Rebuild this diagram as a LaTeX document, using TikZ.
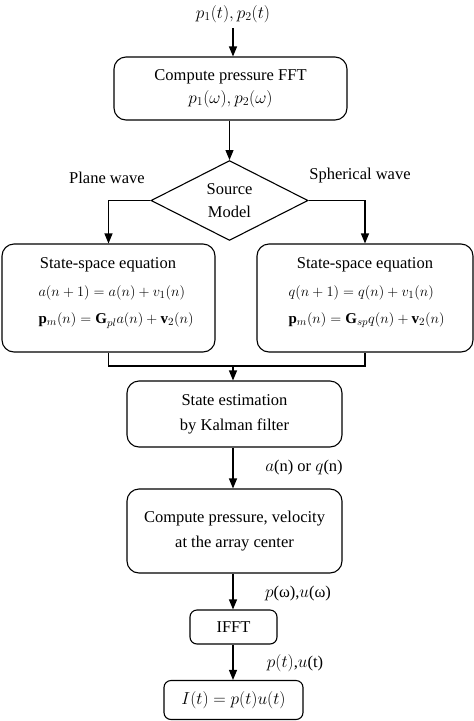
\documentclass[tikz,border=0pt]{standalone}
\usepackage{fontspec}
\setmainfont{Liberation Serif}
\usetikzlibrary{arrows.meta,shapes.geometric}

\begin{document}
\begin{tikzpicture}[
        x=1pt, y=-1pt,
        font=\fontsize{16.5}{20}\selectfont,
        line width=1.1pt,
        every node/.style={inner sep=0pt},
        block/.style={
            draw=black,
            rounded corners=12pt,
            align=center
        },
        decision/.style={
            diamond,
            draw=black,
            minimum width=157pt,
            minimum height=67pt,
            align=center
        },
        equation/.style={
            anchor=west,
            align=left,
            font=\fontsize{15}{18}\selectfont
        },
        flow/.style={-{Triangle[length=10pt,width=8pt]}}
    ]
    \useasboundingbox (0,0) rectangle (474,721);

    % Entrada
    \node (input) at (233,14) {$p_1(t), p_2(t)$};

    % Bloques
    \node[block, minimum width=233pt, minimum height=63pt] (fft) at (230.5,88.5)
        {Compute pressure FFT\\[3pt] $p_1(\omega), p_2(\omega)$};
    \node[decision] (model) at (229.5,200.5) {Source\\[3pt]Model};
    \node (plane) at (107,178) {Plane wave};
    \node (spherical) at (360,176) {Spherical wave};

    \node[block, minimum width=213pt, minimum height=108pt] (planebox) at (108.5,298) {};
    \node (planetitle) at (108,265) {State-space equation};
    \node[equation] (planeeq) at (38,307)
        {$a(n+1) = a(n) + v_1(n)$\\[9pt]
         $\mathbf{p}_m(n) = \mathbf{G}_{pl}a(n) + \mathbf{v}_2(n)$};

    \node[block, minimum width=216pt, minimum height=108pt] (sphbox) at (365,298) {};
    \node (sphtitle) at (365,265) {State-space equation};
    \node[equation] (spheq) at (288,307)
        {$q(n+1) = q(n) + v_1(n)$\\[9pt]
         $\mathbf{p}_m(n) = \mathbf{G}_{sp}q(n) + \mathbf{v}_2(n)$};

    \coordinate (join) at (233,366);

    \node[block, minimum width=215pt, minimum height=66pt] (kalman) at (234.5,414)
        {State estimation\\[5pt] by Kalman filter};
    \node[block, minimum width=215pt, minimum height=84pt] (center) at (234.5,531)
        {Compute pressure, velocity\\[5pt] at the array center};
    \node[block, rounded corners=7pt, minimum width=87pt, minimum height=34pt] (ifft) at (233.5,627) {IFFT};
    \node[block, rounded corners=7pt, minimum width=139pt, minimum height=39pt] (intensity) at (233.5,700)
        {$I(t) = p(t)u(t)$};

    % Etiquetas de flechas
    \node (lblstate) at (304,468) {$a$(n) or $q$(n)};
    \node (lblfreq) at (298,594) {$p$(ω),$u$(ω)};
    \node (lbltime) at (295,663) {$p(t)$,$u$(t)};

    % Conexiones
    \draw[flow] (input.south |- 0,28) -- (input.south |- fft.north);
    \draw[flow] (fft.south -| model.north) -- (model.north);
    \draw[flow] (model.west) -| (planebox.north);
    \draw[flow] (model.east) -| (sphbox.north);
    \draw (planebox.south) -- (planebox.south |- join) -- (sphbox.south |- join) -- (sphbox.south);
    \draw[flow] (join) -- (join |- kalman.north);
    \draw[flow] (join |- kalman.south) -- (join |- center.north);
    \draw[flow] (join |- center.south) -- (join |- ifft.north);
    \draw[flow] (join |- ifft.south) -- (join |- intensity.north);

\end{tikzpicture}
\end{document}
